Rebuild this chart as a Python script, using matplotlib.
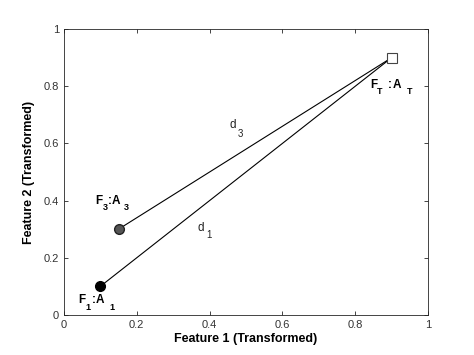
import numpy as np
from matplotlib import pyplot as plt

# points in transformed feature space
pt_names = ["1", "3", "T"]
pt_x = [0.1, 0.15, 0.9]
pt_y = [0.1, 0.3, 0.9]
target = 2

ticks = [0, 0.2, 0.4, 0.6, 0.8, 1]
tick_labels = ["0", "0.2", "0.4", "0.6", "0.8", "1"]

plt.rcParams['font.family'] = 'Liberation Sans'

fig = plt.figure(figsize=(4.74, 3.55), dpi=100)
ax = fig.add_axes([0.135, 0.113, 0.768, 0.805])

for i in [0, 1]:
    ax.plot([pt_x[i], pt_x[target]], [pt_y[i], pt_y[target]], color='black', linewidth=0.8, zorder=1)

ax.plot(pt_x[0], pt_y[0], marker='o', markersize=7, color='black', zorder=3)
ax.plot(pt_x[1], pt_y[1], marker='o', markersize=7, markerfacecolor='#555555',
        markeredgecolor='#222222', zorder=3)
ax.plot(pt_x[2], pt_y[2], marker='s', markersize=7, markerfacecolor='white',
        markeredgecolor='#444444', markeredgewidth=0.8, zorder=3)


def sub_label(x, y, pieces, bold=True, size=8.5, sub_size=6.5):
    # pieces: (text, dx px, dy px, is_sub)
    for txt, dx, dy, is_sub in pieces:
        ax.annotate(txt, (x, y), xytext=(dx * 0.72, dy * 0.72), textcoords='offset points',
                    fontsize=sub_size if is_sub else size,
                    fontweight='bold' if bold else 'normal',
                    color='black' if bold else '#222222',
                    ha='left', va='baseline')


def feat_label(x, y, name, sub_dx, colon_dx, a_dx, a_sub_dx, sub_dy):
    sub_label(x, y, [("F", 0, 0, False), (name, sub_dx, sub_dy, True),
                     (":", colon_dx, 0, False), ("A", a_dx, 0, False),
                     (name, a_sub_dx, sub_dy, True)])


feat_label(0.038, 0.042, pt_names[0], 8, 14, 18, 32, -7)
feat_label(0.085, 0.388, pt_names[1], 8, 13, 17, 29, -6)
feat_label(0.841, 0.794, pt_names[2], 7, 18, 23, 37, -6)
sub_label(0.455, 0.654, [("d", 0, 0, False), ("3", 8, -9, True)], bold=False, sub_size=7)
sub_label(0.367, 0.294, [("d", 0, 0, False), ("1", 9, -7, True)], bold=False, sub_size=7)

ax.set_xlim(0, 1)
ax.set_ylim(0, 1)
ax.set_xticks(ticks)
ax.set_xticklabels(tick_labels)
ax.set_yticks(ticks)
ax.set_yticklabels(tick_labels)
ax.tick_params(direction='in', top=True, right=True, length=3, width=0.6,
               colors='#262626', labelsize=8, labelcolor='#333333')
for s in ax.spines.values():
    s.set_color('#262626')
    s.set_linewidth(0.6)

ax.set_xlabel('Feature 1 (Transformed)', fontsize=9, fontweight='bold', labelpad=2)
ax.set_ylabel('Feature 2 (Transformed)', fontsize=9, fontweight='bold', labelpad=6)

plt.savefig('out.png', dpi=100)
